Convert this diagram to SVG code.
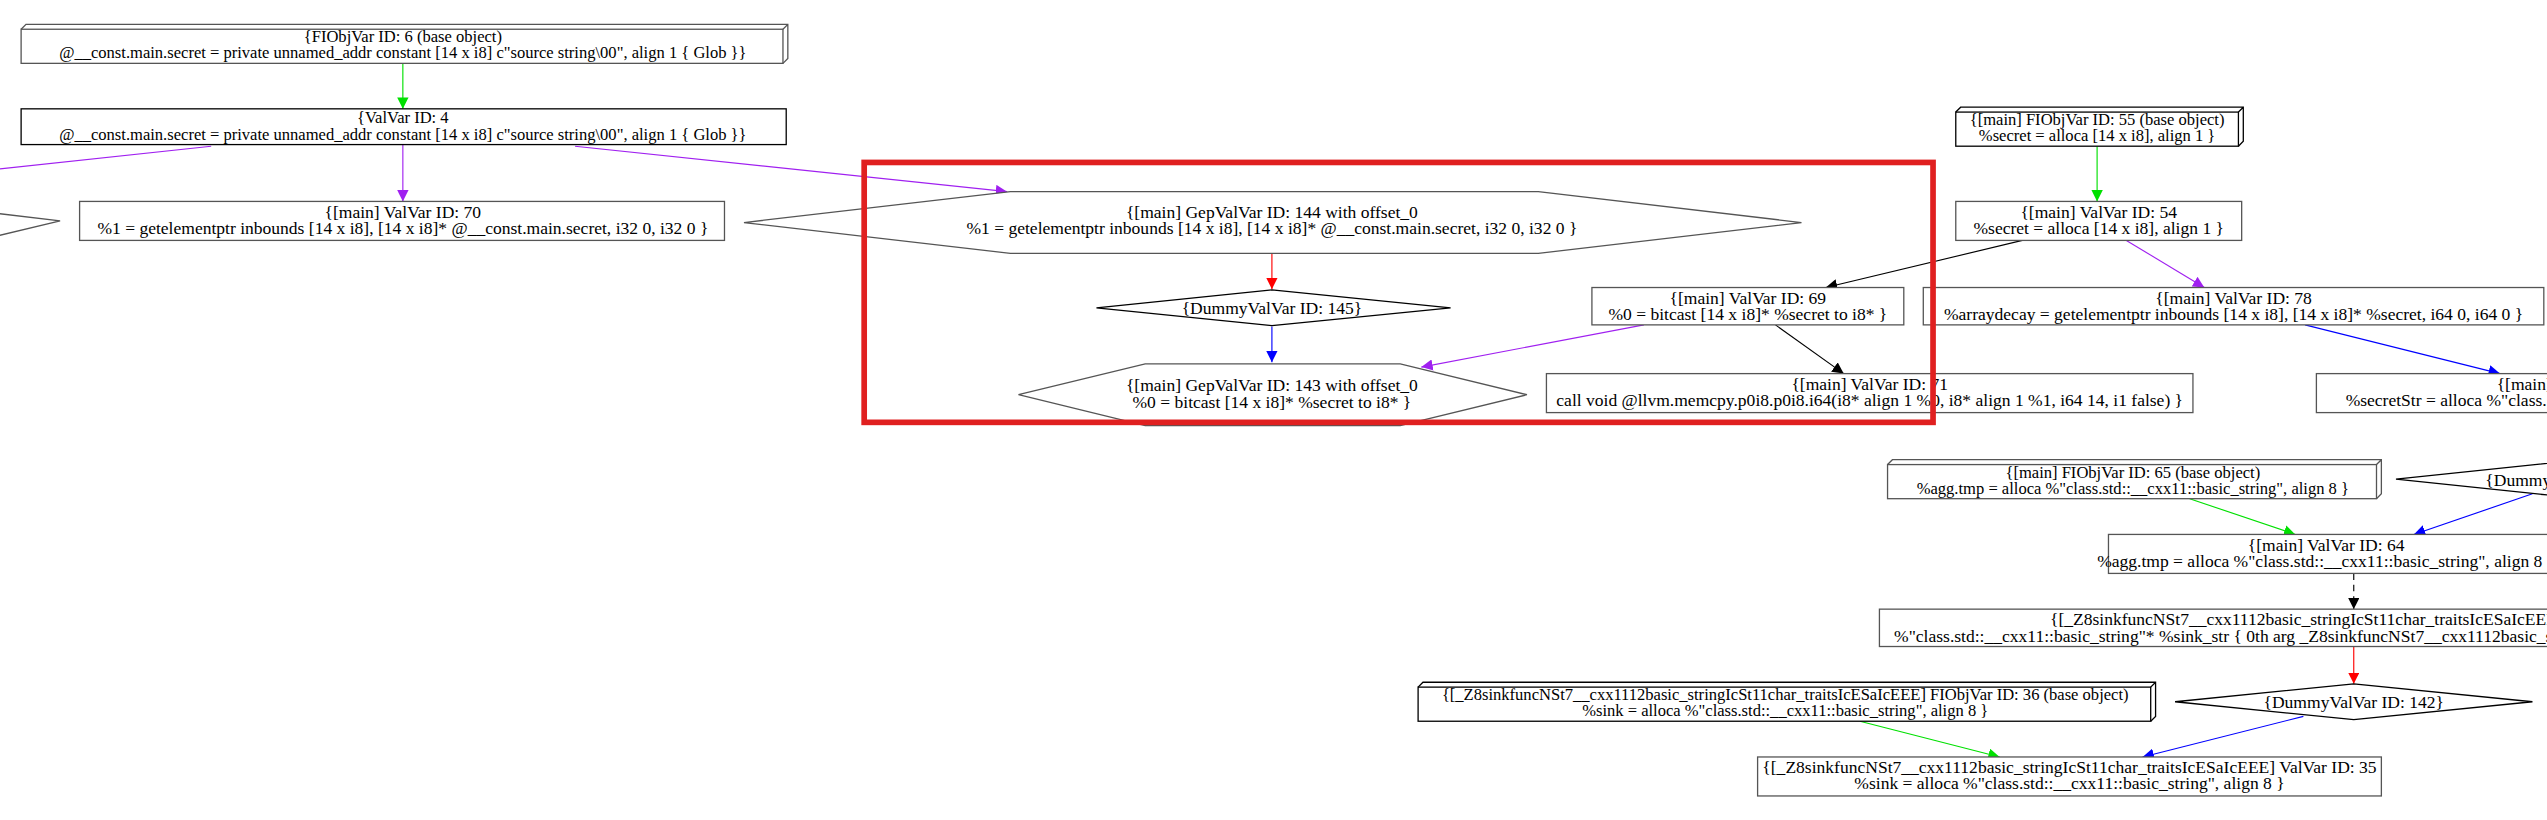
<svg xmlns="http://www.w3.org/2000/svg" width="2547" height="820" viewBox="0 0 2547 820">
<defs>
<style>
text{font-family:"Liberation Serif","Times New Roman",serif;font-size:10.8px;fill:#000;text-anchor:middle}
text.s{text-anchor:start}
text.m{font-size:10.2px}
.n{fill:#fff;stroke:#555;stroke-width:0.8}
.k{fill:none;stroke:#555;stroke-width:0.8}
.e{fill:none;stroke-width:0.7}
</style>
<marker id="ag" viewBox="0 0 10 10" refX="10" refY="5" markerWidth="7" markerHeight="7" orient="auto" markerUnits="userSpaceOnUse"><path d="M0,0L10,5L0,10z" fill="#00e000"/></marker>
<marker id="ap" viewBox="0 0 10 10" refX="10" refY="5" markerWidth="7" markerHeight="7" orient="auto" markerUnits="userSpaceOnUse"><path d="M0,0L10,5L0,10z" fill="#a020f0"/></marker>
<marker id="ar" viewBox="0 0 10 10" refX="10" refY="5" markerWidth="7" markerHeight="7" orient="auto" markerUnits="userSpaceOnUse"><path d="M0,0L10,5L0,10z" fill="#f00"/></marker>
<marker id="ab" viewBox="0 0 10 10" refX="10" refY="5" markerWidth="7" markerHeight="7" orient="auto" markerUnits="userSpaceOnUse"><path d="M0,0L10,5L0,10z" fill="#00f"/></marker>
<marker id="ak" viewBox="0 0 10 10" refX="10" refY="5" markerWidth="7" markerHeight="7" orient="auto" markerUnits="userSpaceOnUse"><path d="M0,0L10,5L0,10z" fill="#000"/></marker>
</defs>
<rect width="2547" height="820" fill="#fff"/>
<g transform="scale(1.6244)">
<g id="connectors">
<path class="e" stroke="#00e000" d="M248,39L248,67" marker-end="url(#ag)"/>
<path class="e" stroke="#a020f0" d="M130,90L0,104"/>
<path class="e" stroke="#a020f0" d="M248,89L248,124" marker-end="url(#ap)"/>
<path class="e" stroke="#a020f0" d="M354,90L620,118" marker-end="url(#ap)"/>
<path class="e" stroke="#f00" d="M783,156L783,178" marker-end="url(#ar)"/>
<path class="e" stroke="#00f" d="M783,201L783,223" marker-end="url(#ab)"/>
<path class="e" stroke="#000" d="M1245,148L1124,177" marker-end="url(#ak)"/>
<path class="e" stroke="#a020f0" d="M1012,200L875,226" marker-end="url(#ap)"/>
<path class="e" stroke="#000" d="M1093,200L1135,230" marker-end="url(#ak)"/>
<path class="e" stroke="#00e000" d="M1291,90L1291,124" marker-end="url(#ag)"/>
<path class="e" stroke="#a020f0" d="M1309,148L1357,177" marker-end="url(#ap)"/>
<path class="e" stroke="#00f" d="M1419,200L1539,230" marker-end="url(#ab)"/>
<path class="e" stroke="#00e000" d="M1348,307L1413,329" marker-end="url(#ag)"/>
<path class="e" stroke="#00f" d="M1559,304L1486,329" marker-end="url(#ab)"/>
<path class="e" stroke="#000" stroke-dasharray="4,3" d="M1449,353L1449,375" marker-end="url(#ak)"/>
<path class="e" stroke="#f00" d="M1449,398L1449,421" marker-end="url(#ar)"/>
<path class="e" stroke="#00e000" d="M1145,444L1231,466" marker-end="url(#ag)"/>
<path class="e" stroke="#00f" d="M1418,441L1319,466" marker-end="url(#ab)"/>
</g>
<g id="n6"><rect class="n" x="13" y="18" width="469" height="21"/><path class="k" d="M13,18L16,15L485,15L485,36L482,39M482,18L485,15"/>
<text class="m" x="248" y="26">{FIObjVar ID: 6 (base object)</text><text class="m" x="248" y="36">@__const.main.secret = private unnamed_addr constant [14 x i8] c"source string\00", align 1 { Glob  }}</text></g>
<g id="n4"><rect class="n" x="13" y="67" width="471" height="22" style="stroke:#000"/>
<text class="m" x="248" y="76">{ValVar ID: 4</text><text class="m" x="248" y="86">@__const.main.secret = private unnamed_addr constant [14 x i8] c"source string\00", align 1 { Glob  }}</text></g>
<g id="nleft"><path class="n" d="M-5,131L37,136L-5,146"/></g>
<g id="n70"><rect class="n" x="49" y="124" width="397" height="24"/>
<text x="248" y="134">{[main] ValVar ID: 70</text><text x="248" y="144">%1 = getelementptr inbounds [14 x i8], [14 x i8]* @__const.main.secret, i32 0, i32 0 }</text></g>
<g id="n144"><path class="n" d="M458,137L622,118L947,118L1109,137L947,156L622,156Z"/>
<text x="783" y="134">{[main] GepValVar ID: 144 with offset_0</text><text x="783" y="144">%1 = getelementptr inbounds [14 x i8], [14 x i8]* @__const.main.secret, i32 0, i32 0 }</text></g>
<g id="n145"><path class="n" d="M675,189.5L783,178.5L893,189.5L783,200.5Z" style="stroke:#000"/>
<text x="783" y="193">{DummyValVar ID: 145}</text></g>
<g id="n143"><path class="n" d="M627,243L705,224L862,224L940,243L862,262L705,262Z"/>
<text x="783" y="241">{[main] GepValVar ID: 143 with offset_0</text><text x="783" y="251">%0 = bitcast [14 x i8]* %secret to i8* }</text></g>
<g id="n69"><rect class="n" x="980" y="177" width="192" height="23"/>
<text x="1076" y="187">{[main] ValVar ID: 69</text><text x="1076" y="197">%0 = bitcast [14 x i8]* %secret to i8* }</text></g>
<g id="n71"><rect class="n" x="952" y="230" width="398" height="24"/>
<text x="1151" y="240">{[main] ValVar ID: 71</text><text x="1151" y="250">call void @llvm.memcpy.p0i8.p0i8.i64(i8* align 1 %0, i8* align 1 %1, i64 14, i1 false) }</text></g>
<g id="n55"><rect class="n" x="1204" y="69" width="174" height="21" style="stroke:#000"/><path class="k" d="M1204,69L1207,66L1381,66L1381,87L1378,90M1378,69L1381,66" style="stroke:#000"/>
<text class="m" x="1291" y="77">{[main] FIObjVar ID: 55 (base object)</text><text class="m" x="1291" y="87">%secret = alloca [14 x i8], align 1 }</text></g>
<g id="n54"><rect class="n" x="1204" y="124" width="176" height="24"/>
<text x="1292" y="134">{[main] ValVar ID: 54</text><text x="1292" y="144">%secret = alloca [14 x i8], align 1 }</text></g>
<g id="n78"><rect class="n" x="1184" y="177" width="382" height="23"/>
<text x="1375" y="187">{[main] ValVar ID: 78</text><text x="1375" y="197">%arraydecay = getelementptr inbounds [14 x i8], [14 x i8]* %secret, i64 0, i64 0 }</text></g>
<g id="nsecretStr"><rect class="n" x="1426" y="230" width="200" height="24"/>
<text class="s" x="1537" y="240">{[main] ValVar ID: 62</text><text class="s" x="1444" y="250">%secretStr = alloca %"class.std::__cxx11::basic_string", align 8 }</text></g>
<g id="n65"><rect class="n" x="1162" y="286" width="301" height="21"/><path class="k" d="M1162,286L1165,283L1466,283L1466,304L1463,307M1463,286L1466,283"/>
<text class="m" x="1313" y="294">{[main] FIObjVar ID: 65 (base object)</text><text class="m" x="1313" y="304">%agg.tmp = alloca %"class.std::__cxx11::basic_string", align 8 }</text></g>
<g id="ndummyR"><path class="n" d="M1475,295L1590,283L1705,295L1590,307Z" style="stroke:#000"/>
<text class="s" x="1530" y="299">{DummyValVar ID: 140}</text></g>
<g id="n64"><rect class="n" x="1298" y="329" width="300" height="24"/>
<text x="1432" y="339">{[main] ValVar ID: 64</text><text x="1432" y="349">%agg.tmp = alloca %"class.std::__cxx11::basic_string", align 8 }</text></g>
<g id="nsinkstr"><rect class="n" x="1157" y="375" width="450" height="23"/>
<text class="s" x="1262" y="385">{[_Z8sinkfuncNSt7__cxx1112basic_stringIcSt11char_traitsIcESaIcEEE] ValVar ID: 37</text><text class="s" x="1166" y="395">%"class.std::__cxx11::basic_string"* %sink_str { 0th arg _Z8sinkfuncNSt7__cxx1112basic_stringIcSt11char_traitsIcESaIcEEE }</text></g>
<g id="n142"><path class="n" d="M1339,432L1449,421L1559,432L1449,443Z" style="stroke:#000"/>
<text x="1449" y="436">{DummyValVar ID: 142}</text></g>
<g id="n36"><rect class="n" x="873" y="423" width="451" height="21" style="stroke:#000"/><path class="k" d="M873,423L876,420L1327,420L1327,441L1324,444M1324,423L1327,420" style="stroke:#000"/>
<text class="m" x="1099" y="431">{[_Z8sinkfuncNSt7__cxx1112basic_stringIcSt11char_traitsIcESaIcEEE] FIObjVar ID: 36 (base object)</text><text class="m" x="1099" y="441">%sink = alloca %"class.std::__cxx11::basic_string", align 8 }</text></g>
<g id="n35"><rect class="n" x="1082" y="466" width="384" height="24"/>
<text x="1274" y="476">{[_Z8sinkfuncNSt7__cxx1112basic_stringIcSt11char_traitsIcESaIcEEE] ValVar ID: 35</text><text x="1274" y="486">%sink = alloca %"class.std::__cxx11::basic_string", align 8 }</text></g>
<g id="highlight"><rect x="532" y="100" width="658" height="160" fill="none" stroke="#e02020" stroke-width="3.5"/></g>
</g>
</svg>
